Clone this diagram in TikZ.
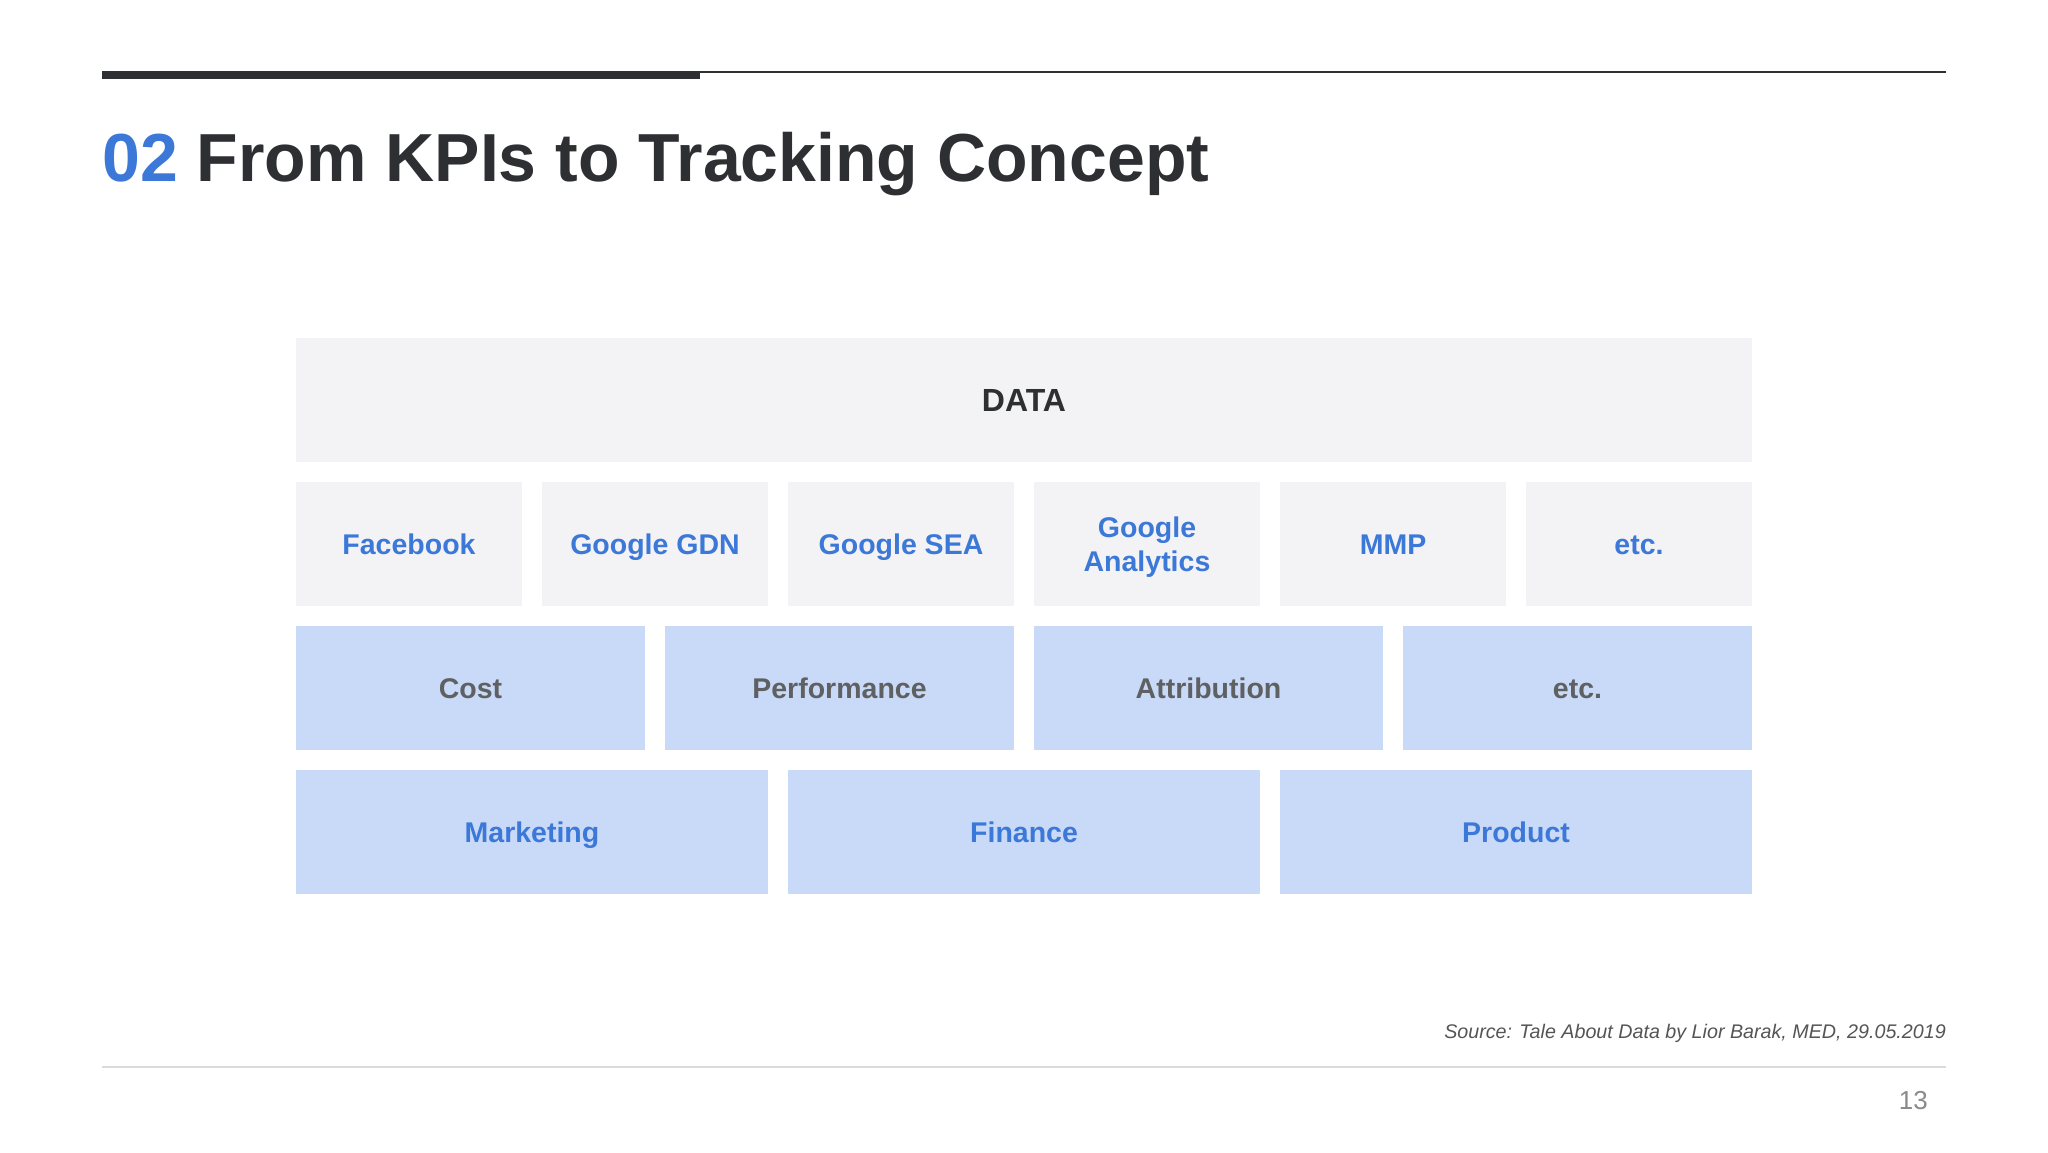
\documentclass[tikz,border=0pt]{standalone}
\usepackage{fontspec}
\setmainfont{Liberation Sans}
\definecolor{ink}{HTML}{2D2F33}
\definecolor{accent}{HTML}{3C78D8}
\definecolor{greybox}{HTML}{F3F3F5}
\definecolor{bluebox}{HTML}{C9DAF8}
\definecolor{midgrey}{HTML}{5F6062}
\definecolor{rulegrey}{HTML}{DADBDD}
\definecolor{numgrey}{HTML}{8A8A8A}
\definecolor{srcgrey}{HTML}{555555}
\tikzset{
  cell/.style={draw=none, inner sep=0pt, anchor=center, align=center,
    font=\fontsize{28.5}{34}\selectfont\bfseries},
  srcbox/.style={cell, fill=greybox, text=accent, text height=21pt, text depth=0pt},
  kpibox/.style={cell, fill=bluebox, text=midgrey, text height=21pt, text depth=0pt},
  deptbox/.style={cell, fill=bluebox, text=accent, text height=21pt, text depth=0pt},
}
\begin{document}
\begin{tikzpicture}[x=1pt,y=-1pt]
\useasboundingbox (0,0) rectangle (2048,1152);
\fill[white] (0,0) rectangle (2048,1152);
% top rules
\draw[ink, line width=2pt] (102,72) -- (1946,72);
\fill[ink] (102,71) rectangle (700,79);
% title
\node[anchor=base west, inner sep=0pt, font=\fontsize{68}{80}\selectfont\bfseries, text=ink] (title) at (102,181) {\textcolor{accent}{02} From KPIs to Tracking Concept};
% DATA row
\node[cell, fill=greybox, text=ink, minimum width=1456pt, minimum height=124pt, font=\fontsize{32}{38}\selectfont\bfseries, text height=23pt, text depth=0pt] (data) at (1024,400) {DATA};
% sources row (6 boxes, width 226, gap 20)
\foreach \i/\t/\n in {0/Facebook/fb,1/Google GDN/gdn,2/Google SEA/sea,4/MMP/mmp,5/etc./etcA}{
  \node[srcbox, minimum width=226pt, minimum height=124pt] (\n) at ({296+113+\i*246},544) {\t};
}
\node[cell, fill=greybox, text=accent, minimum width=226pt, minimum height=124pt, text depth=0pt] (ga) at ({296+113+3*246},544) {Google\\Analytics};
% KPI row (4 boxes, width 349, gap 20)
\foreach \i/\t/\n in {0/Cost/cost,1/Performance/perf,2/Attribution/attr,3/etc./etcB}{
  \node[kpibox, minimum width=349pt, minimum height=124pt] (\n) at ({296+174.5+\i*369},688) {\t};
}
% department row (3 boxes, width 472, gap 20)
\foreach \i/\t/\n in {0/Marketing/mkt,1/Finance/fin,2/Product/prod}{
  \node[deptbox, minimum width=472pt, minimum height=124pt] (\n) at ({296+236+\i*492},832) {\t};
}
% source line
\node[anchor=base east, inner sep=0pt, font=\fontsize{19.7}{24}\selectfont\itshape, text=srcgrey] (src) at (1946,1038) {Source: Tale About Data by Lior Barak, MED, 29.05.2019};
\draw[rulegrey, line width=2pt] (102,1067) -- (1946,1067);
\node[anchor=base east, inner sep=0pt, font=\fontsize{26}{30}\selectfont, text=numgrey] (page) at (1928,1109) {13};
\end{tikzpicture}
\end{document}
